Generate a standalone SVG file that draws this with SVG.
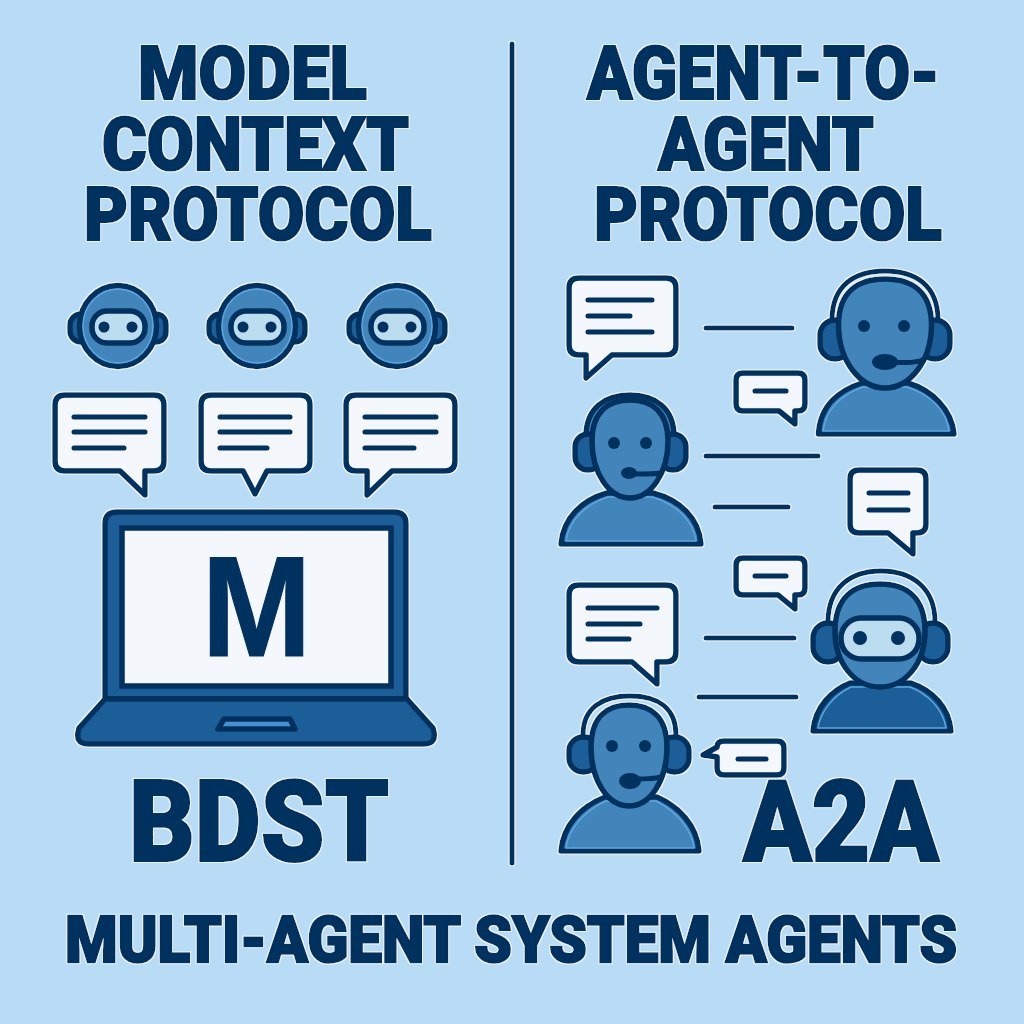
<svg xmlns="http://www.w3.org/2000/svg" width="1024" height="1024" viewBox="0 0 1024 1024">
<style>
.t{font-family:Roboto,"Liberation Sans",sans-serif;font-weight:900;fill:#03305f;stroke:#03305f;stroke-width:2.2;stroke-linejoin:miter;text-anchor:start}
.o{stroke:#03305f;stroke-width:5.5;stroke-linejoin:round;stroke-linecap:round}
.bub{fill:#f4f8fd;stroke:#03305f;stroke-width:5.5;stroke-linejoin:round}
.ln{stroke:#03305f;stroke-width:5;stroke-linecap:round;fill:none}
.mid{fill:#4285bb}
.dk{fill:#1d5f98}
.vis{fill:#bcdcef}
.band{fill:none;stroke:#03305f;stroke-width:5;stroke-linecap:round}
.in{fill:none;stroke:#5ba8e0;stroke-width:1.4}
.d{fill:#03305f}
</style>
<defs>
<filter id="halo" x="-10%" y="-10%" width="120%" height="120%">
<feMorphology in="SourceAlpha" operator="dilate" radius="1" result="a"/>
<feFlood flood-color="#fff" flood-opacity=".7"/>
<feComposite in2="a" operator="in" result="w"/>
<feMerge><feMergeNode in="w"/><feMergeNode in="SourceGraphic"/></feMerge>
</filter>
<g id="robot">
<rect class="dk o" x="-48" y="-12" width="22" height="28" rx="11"/>
<rect class="dk o" x="28" y="-12" width="20" height="28" rx="10"/>
<ellipse class="mid o" cx="0" cy="0" rx="38.500" ry="40.500"/>
<ellipse class="in" cx="0" cy="0" rx="35" ry="37"/>
<rect class="vis o" x="-26" y="-15" width="53" height="32" rx="15"/>
<circle class="d" cx="-14" cy="1" r="5.500"/>
<circle class="d" cx="14" cy="1" r="5.500"/>
</g>
</defs>
<rect width="1024" height="1024" fill="#b8dcf6"/>

<g id="titles" filter="url(#halo)">
<text class="t" x="138" y="98.500" font-size="74" textLength="229" lengthAdjust="spacingAndGlyphs">MODEL</text>
<text class="t" x="102" y="169.500" font-size="74" textLength="307" lengthAdjust="spacingAndGlyphs">CONTEXT</text>
<text class="t" x="84" y="239.500" font-size="74" textLength="348" lengthAdjust="spacingAndGlyphs">PROTOCOL</text>
<text class="t" x="587" y="98.500" font-size="74" textLength="353" lengthAdjust="spacingAndGlyphs">AGENT-TO-</text>
<text class="t" x="658" y="169.500" font-size="74" textLength="216" lengthAdjust="spacingAndGlyphs">AGENT</text>
<text class="t" x="594" y="239.500" font-size="74" textLength="348" lengthAdjust="spacingAndGlyphs">PROTOCOL</text>
<text class="t" x="129" y="860.500" font-size="113" textLength="260" lengthAdjust="spacingAndGlyphs">BDST</text>
<text class="t" x="743" y="860.500" font-size="113" textLength="196" lengthAdjust="spacingAndGlyphs">A2A</text>
<text class="t" transform="translate(65,962.500) scale(1,1.083)" font-size="60" textLength="892" lengthAdjust="spacingAndGlyphs">MULTI-AGENT SYSTEM AGENTS</text>
</g>

<g id="connectors" filter="url(#halo)">
<line class="ln" x1="512" y1="44" x2="512" y2="863"/>
<line class="ln" x1="706" y1="328" x2="792" y2="328"/>
<line class="ln" x1="706" y1="456" x2="818" y2="456"/>
<line class="ln" x1="715" y1="507" x2="788" y2="507"/>
<line class="ln" x1="706" y1="638" x2="794" y2="638"/>
<line class="ln" x1="699" y1="697" x2="796" y2="697"/>
</g>

<g id="robot-1" filter="url(#halo)"><use href="#robot" x="118" y="326"/></g>
<g id="robot-2" filter="url(#halo)"><use href="#robot" x="257" y="326"/></g>
<g id="robot-3" filter="url(#halo)"><use href="#robot" x="397" y="326"/></g>

<g id="bubble-1" filter="url(#halo)">
<path class="bub" d="M65,395 H154 Q164,395 164,405 V461 Q164,471 154,471 H145 V495 L120,471 H65 Q55,471 55,461 V405 Q55,395 65,395Z"/>
<path class="ln" d="M74,417 H145 M74,432 H145 M74,448 H124"/>
</g>
<g id="bubble-2" filter="url(#halo)">
<path class="bub" d="M211,395 H300 Q310,395 310,405 V461 Q310,471 300,471 H267 L255,494 L243,471 H211 Q201,471 201,461 V405 Q201,395 211,395Z"/>
<path class="ln" d="M220,417 H290 M220,432 H290 M220,448 H267"/>
</g>
<g id="bubble-3" filter="url(#halo)">
<path class="bub" d="M356,395 H445 Q455,395 455,405 V461 Q455,471 445,471 H392 L367,495 V471 H356 Q346,471 346,461 V405 Q346,395 356,395Z"/>
<path class="ln" d="M365,417 H436 M365,432 H436 M365,448 H414"/>
</g>

<g id="laptop" filter="url(#halo)">
<path class="dk o" d="M105,699 V524 Q105,512 117,512 H394 Q406,512 406,524 V699Z"/>
<rect x="122" y="528" width="269" height="158" fill="#f4f8fd" stroke="#03305f" stroke-width="5.500"/>
<path class="dk o" d="M105,699 H407 L433,728 Q438,744 424,744 H88 Q74,744 79,728Z"/>
<path fill="#4a90d0" class="o" d="M224,719 H290 L295,729 H218Z"/>
<text x="201.500" y="655.500" font-family="'Liberation Sans',Arial,sans-serif" font-weight="700" font-size="143" textLength="110" lengthAdjust="spacingAndGlyphs" fill="#03305f" stroke="#03305f" stroke-width="1.200">M</text>
</g>

<g id="bubble-4" filter="url(#halo)">
<path class="bub" d="M579,278 H666 Q676,278 676,288 V345 Q676,355 666,355 H612 L586,378 V355 H579 Q569,355 569,345 V288 Q569,278 579,278Z"/>
<path class="ln" d="M588,300 H652 M588,316 H630 M588,332 H652"/>
</g>
<g id="bubble-5" filter="url(#halo)">
<path class="bub" d="M743,373 H798 Q805,373 805,380 V404 Q805,411 798,411 H795 V424 L779,411 H743 Q736,411 736,404 V380 Q736,373 743,373Z"/>
<path class="ln" d="M755,391 H786"/>
</g>
<g id="bubble-6" filter="url(#halo)">
<path class="bub" d="M859,470 H917 Q926,470 926,479 V524 Q926,533 917,533 H913 V554 L888,533 H859 Q850,533 850,524 V479 Q850,470 859,470Z"/>
<path class="ln" d="M869,493 H908 M869,510 H908"/>
</g>
<g id="bubble-7" filter="url(#halo)">
<path class="bub" d="M743,558 H798 Q805,558 805,565 V588 Q805,595 798,595 H795 V609 L778,595 H743 Q736,595 736,588 V565 Q736,558 743,558Z"/>
<path class="ln" d="M755,576 H786"/>
</g>
<g id="bubble-8" filter="url(#halo)">
<path class="bub" d="M579,585 H666 Q676,585 676,595 V652 Q676,662 666,662 H657 V684 L632,662 H579 Q569,662 569,652 V595 Q569,585 579,585Z"/>
<path class="ln" d="M588,608 H657 M588,624 H640 M588,639 H629"/>
</g>
<g id="bubble-9" filter="url(#halo)">
<path class="bub" d="M724,741 H777 Q784,741 784,748 V768 Q784,775 777,775 H724 Q717,775 717,768 V757 L703,755 L717,747 Q717,741 724,741Z"/>
<path class="ln" d="M738,759 H766"/>
</g>

<g id="agent-1" filter="url(#halo)">
<path class="mid o" d="M818.500,434 C820,405 840,390 862,383 L908,383 C932,390 952,410 954,434Z"/>
<path class="in" d="M823,431 C826,408 843,394 863,387 L907,387 C928,394 946,408 949,431Z"/>
<path class="band" d="M832,320 C832,285 855,271 885,271 C915,271 938,285 938,320"/>
<rect class="dk o" x="820" y="320" width="30" height="39" rx="15"/>
<rect class="dk o" x="920" y="320" width="30" height="39" rx="15"/>
<path class="mid o" d="M838.500,325 C838.500,292 858,279 885,279 C912,279 931.500,292 931.500,325 C931.500,361 910,388 885,388 C860,388 838.500,361 838.500,325Z"/>
<circle class="d" cx="864" cy="326" r="6"/><circle class="d" cx="904" cy="326" r="6"/>
<path class="ln" d="M893,362 C905,363 918,363 924,359"/>
<ellipse class="d" cx="885" cy="362" rx="13" ry="8"/>
</g>

<g id="agent-2" filter="url(#halo)">
<path class="mid o" d="M561,544 C563,518 582,500 607,493 L653,493 C680,500 699,518 701,544Z"/>
<path class="in" d="M566,541 C569,520 586,504 608,497 L652,497 C676,504 693,520 696,541Z"/>
<path class="mid o" d="M586,436 C586,408 605,395 630,395 C655,395 674,408 674,436Z"/>
<rect class="dk o" x="575" y="434" width="26" height="36" rx="13"/>
<rect class="dk o" x="660" y="434" width="26" height="36" rx="13"/>
<path class="mid o" d="M592,441 C592,412 608,400 630,400 C652,400 668,412 668,441 C668,473 651,498 630,498 C609,498 592,473 592,441Z"/>
<circle class="d" cx="614" cy="443" r="6"/><circle class="d" cx="646" cy="443" r="6"/>
<path class="ln" d="M634,474 C645,474 655,474 660,473"/>
<ellipse class="d" cx="629" cy="473" rx="8" ry="6"/>
</g>

<g id="agent-3" filter="url(#halo)">
<path class="dk o" d="M813,731 C815,707 832,690 850,683 L911,683 C932,690 949,707 951,731Z"/>
<path class="in" d="M818,728 C821,709 836,694 851,687 L910,687 C928,694 943,709 946,728Z"/>
<path class="band" d="M828,622 C828,588 850,571 881,571 C912,571 935,588 935,622"/>
<rect class="dk o" x="813" y="623" width="30" height="39" rx="15"/>
<rect class="dk o" x="918" y="623" width="30" height="39" rx="15"/>
<path class="mid o" d="M835,631 C835,598 853,584 880,584 C907,584 925,598 925,631 C925,664 905,687 880,687 C855,687 835,664 835,631Z"/>
<rect class="vis o" x="841" y="618" width="78" height="41" rx="20"/>
<circle class="d" cx="860" cy="638" r="7"/><circle class="d" cx="898" cy="638" r="7"/>
</g>

<g id="agent-4" filter="url(#halo)">
<path class="mid o" d="M561,851 C563,825 582,806 605,797 L657,797 C678,806 697,825 699,851Z"/>
<path class="in" d="M566,848 C569,827 586,810 606,801 L656,801 C674,810 691,827 694,848Z"/>
<path class="band" d="M583,735 C583,708 602,696 630,696 C658,696 676,708 676,735"/>
<rect class="dk o" x="569" y="737" width="29" height="35" rx="14"/>
<rect class="dk o" x="660" y="737" width="29" height="35" rx="14"/>
<path class="mid o" d="M591,747 C591,716 608,705 629,705 C650,705 667,716 667,747 C667,781 650,806 629,806 C608,806 591,781 591,747Z"/>
<circle class="d" cx="612" cy="746" r="6"/><circle class="d" cx="645" cy="746" r="6"/>
<path class="ln" d="M636,779 C645,779 655,779 660,777"/>
<ellipse class="d" cx="630" cy="781" rx="11" ry="8"/>
</g>
</svg>
